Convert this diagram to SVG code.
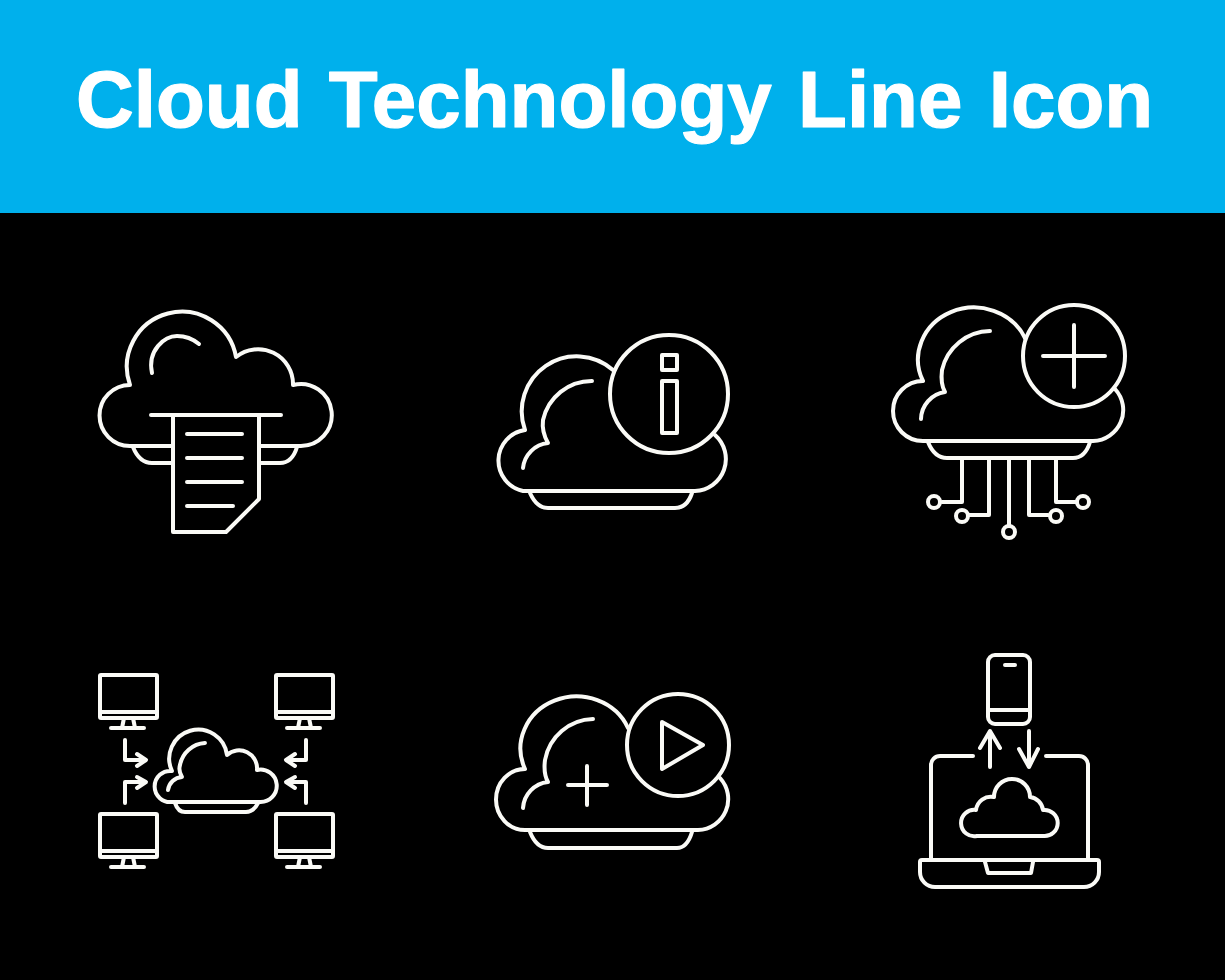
<svg xmlns="http://www.w3.org/2000/svg" width="1225" height="980" viewBox="0 0 1225 980">
<style>
.l{fill:none;stroke:#fafaf6;stroke-width:4;stroke-linecap:round;stroke-linejoin:round}
.t{font-family:"Liberation Sans",Arial,sans-serif;font-weight:700;font-size:80px;word-spacing:4px;fill:#fff;stroke:#fff;stroke-width:1.2;stroke-linejoin:round}
</style>
<defs>
<g id="mon" class="l"><rect x="0" y="0" width="57" height="43" rx="1"/><path d="M0 37H57M24 43L22 53M33 43L35 53M11 53H44"/></g>
</defs>
<rect width="1225" height="980" fill="#000"/>
<rect id="banner" width="1225" height="213" fill="#00b0ec"/>
<text id="title" class="t" x="76" y="127">Cloud Technology Line Icon</text>
<g id="icon-doc" class="l">
<path d="M171 446H130A30.500 30.500 0 0 1 130 385A55 55 0 1 1 236 357A35 35 0 0 1 293 385A31 31 0 1 1 300 446H261"/>
<path d="M133 447C137 457 143 463 152 463H171M259 463H280C288 463 294 457 297 447"/>
<path d="M152 373C147 350 165 336 177 336C186 336 193 339 199 344"/>
<path d="M151 415H281M173 415V532H226L259 499V415"/>
<path d="M187 434H242M187 458H242M187 482H242M187 506H233"/>
</g>
<g id="icon-info" class="l">
<circle cx="669" cy="394" r="59"/>
<rect x="662" y="355" width="15" height="15"/><rect x="662" y="381" width="15" height="52"/>
<path d="M613 370A55 55 0 0 0 525 430A31 31 0 0 0 523 491H695A32 32 0 0 0 715 435"/>
<path d="M530 493C534 502 540 508 548 508H675C683 508 689 502 692 493"/>
<path d="M523 468A28 28 0 0 1 548 443C544 436 542 428 543 420A50 50 0 0 1 592 381"/>
</g>
<g id="icon-plus" class="l">
<circle cx="1074" cy="356" r="51"/>
<path d="M1043 356H1105M1074 325V387"/>
<path d="M1025 338A56 52 0 0 0 923 381A30 30 0 0 0 923 441H1093A31 31 0 0 0 1115 389"/>
<path d="M928 442C932 452 938 458 947 458H1073C1081 458 1087 452 1090 442"/>
<path d="M921 419A28 28 0 0 1 945 392C941 385 941 378 942 370A50 50 0 0 1 990 331"/>
<path d="M962 458V502H942M989 458V515H969M1009 458V525M1029 458V515H1048M1056 458V502H1076"/>
<circle cx="934" cy="502" r="6"/><circle cx="962" cy="516" r="6"/><circle cx="1009" cy="532" r="6"/><circle cx="1056" cy="516" r="6"/><circle cx="1083" cy="502" r="6"/>
</g>
<g id="icon-network">
<use href="#mon" x="100" y="675"/><use href="#mon" x="276" y="675"/><use href="#mon" x="100" y="814"/><use href="#mon" x="276" y="814"/>
<g class="l">
<path d="M172 771A29 29 0 1 1 227 755A18 18 0 0 1 257 770A16.200 16.200 0 1 1 260 802H172A15.600 15.600 0 1 1 172 771Z"/>
<path d="M175 803C177 809 180 812 185 812H246C251 812 255 809 258 803"/>
<path d="M168 790A15 15 0 0 1 182 777C179 772 179 768 180 765A27 27 0 0 1 205 743"/>
</g>
<g id="connectors" class="l">
<path d="M125 740V760H144M137 754L146 760L137 766"/>
<path d="M125 803V782H144M137 777L146 782L137 788"/>
<path d="M306 740V760H288M295 754L286 760L295 766"/>
<path d="M306 803V782H288M295 777L286 782L295 788"/>
</g>
</g>
<g id="icon-play" class="l">
<circle cx="678" cy="745" r="51"/>
<path d="M662 722L703 745L662 769Z"/>
<path d="M568 785H607M587 766V805"/>
<path d="M628 728A56 52 0 0 0 525 769A29 30.500 0 0 0 525 830H698A31 31 0 0 0 720 778"/>
<path d="M530 832C534 842 540 848 548 848H677C685 848 689 842 692 832"/>
<path d="M523 808A28 28 0 0 1 548 782C544 775 544 768 545 760A50 50 0 0 1 593 719"/>
</g>
<g id="icon-mobile" class="l">
<rect x="988" y="655" width="42" height="69" rx="7"/>
<path d="M988 710H1030M1005 665H1015"/>
<path d="M990 767V732M980 748L990 731L1000 748M1029 731V766M1019 749L1029 767L1038 749"/>
<path d="M973 756H940A9 9 0 0 0 931 765V860M1046 756H1079A9 9 0 0 1 1088 765V860"/>
<path d="M920 862A2 2 0 0 1 922 860H1097A2 2 0 0 1 1099 862V872A15 15 0 0 1 1084 887H935A15 15 0 0 1 920 872Z"/>
<path d="M985 862L988 873H1031L1033 862"/>
<path d="M977 836A13.200 13.200 0 1 1 976 810A15 15 0 0 1 994 797A18 18 0 0 1 1030 797A15 15 0 0 1 1043 810A13.100 13.100 0 1 1 1043 836Z"/>
</g>
</svg>
